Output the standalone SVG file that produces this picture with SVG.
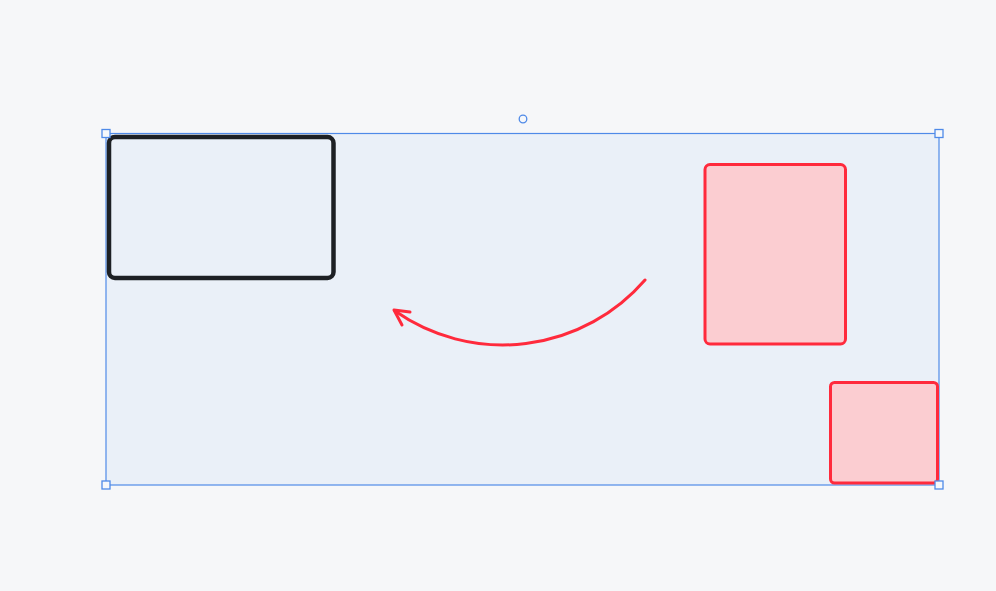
<svg xmlns="http://www.w3.org/2000/svg" width="996" height="591" viewBox="0 0 996 591">
<style>
.sel{fill:#eaf0f8;stroke:#4f8ae8;stroke-width:1.2}
.handle{fill:#f6f8fb;stroke:#4f8ae8;stroke-width:1.3}
.red{fill:#fbcdd1;stroke:#ff2a3c;stroke-width:3}
</style>
<rect width="996" height="591" fill="#f6f7f9"/>
<rect class="sel" x="106" y="133.5" width="833" height="351.5"/>
<g id="black-rect"><rect x="109" y="137" width="224.5" height="141" rx="6" fill="#eaf0f8" stroke="#1d2024" stroke-width="4.5"/></g>
<g id="pink-rect-1"><rect class="red" x="705" y="164.5" width="140.5" height="179.5" rx="5"/></g>
<g id="pink-rect-2"><rect class="red" x="830.5" y="382.5" width="107" height="100.5" rx="4"/></g>
<g id="connectors">
<path d="M645 280 A188 188 0 0 1 395 311" fill="none" stroke="#ff2a3c" stroke-width="3" stroke-linecap="round"/>
<path d="M410 312 L394 310 L402 325" fill="none" stroke="#ff2a3c" stroke-width="3" stroke-linecap="round" stroke-linejoin="round"/>
</g>
<g id="handles">
<rect class="handle" x="102" y="129.5" width="8" height="8"/>
<rect class="handle" x="935" y="129.5" width="8" height="8"/>
<rect class="handle" x="102" y="481" width="8" height="8"/>
<rect class="handle" x="935" y="481" width="8" height="8"/>
<circle class="handle" cx="523" cy="119" r="3.8"/>
</g>
</svg>
